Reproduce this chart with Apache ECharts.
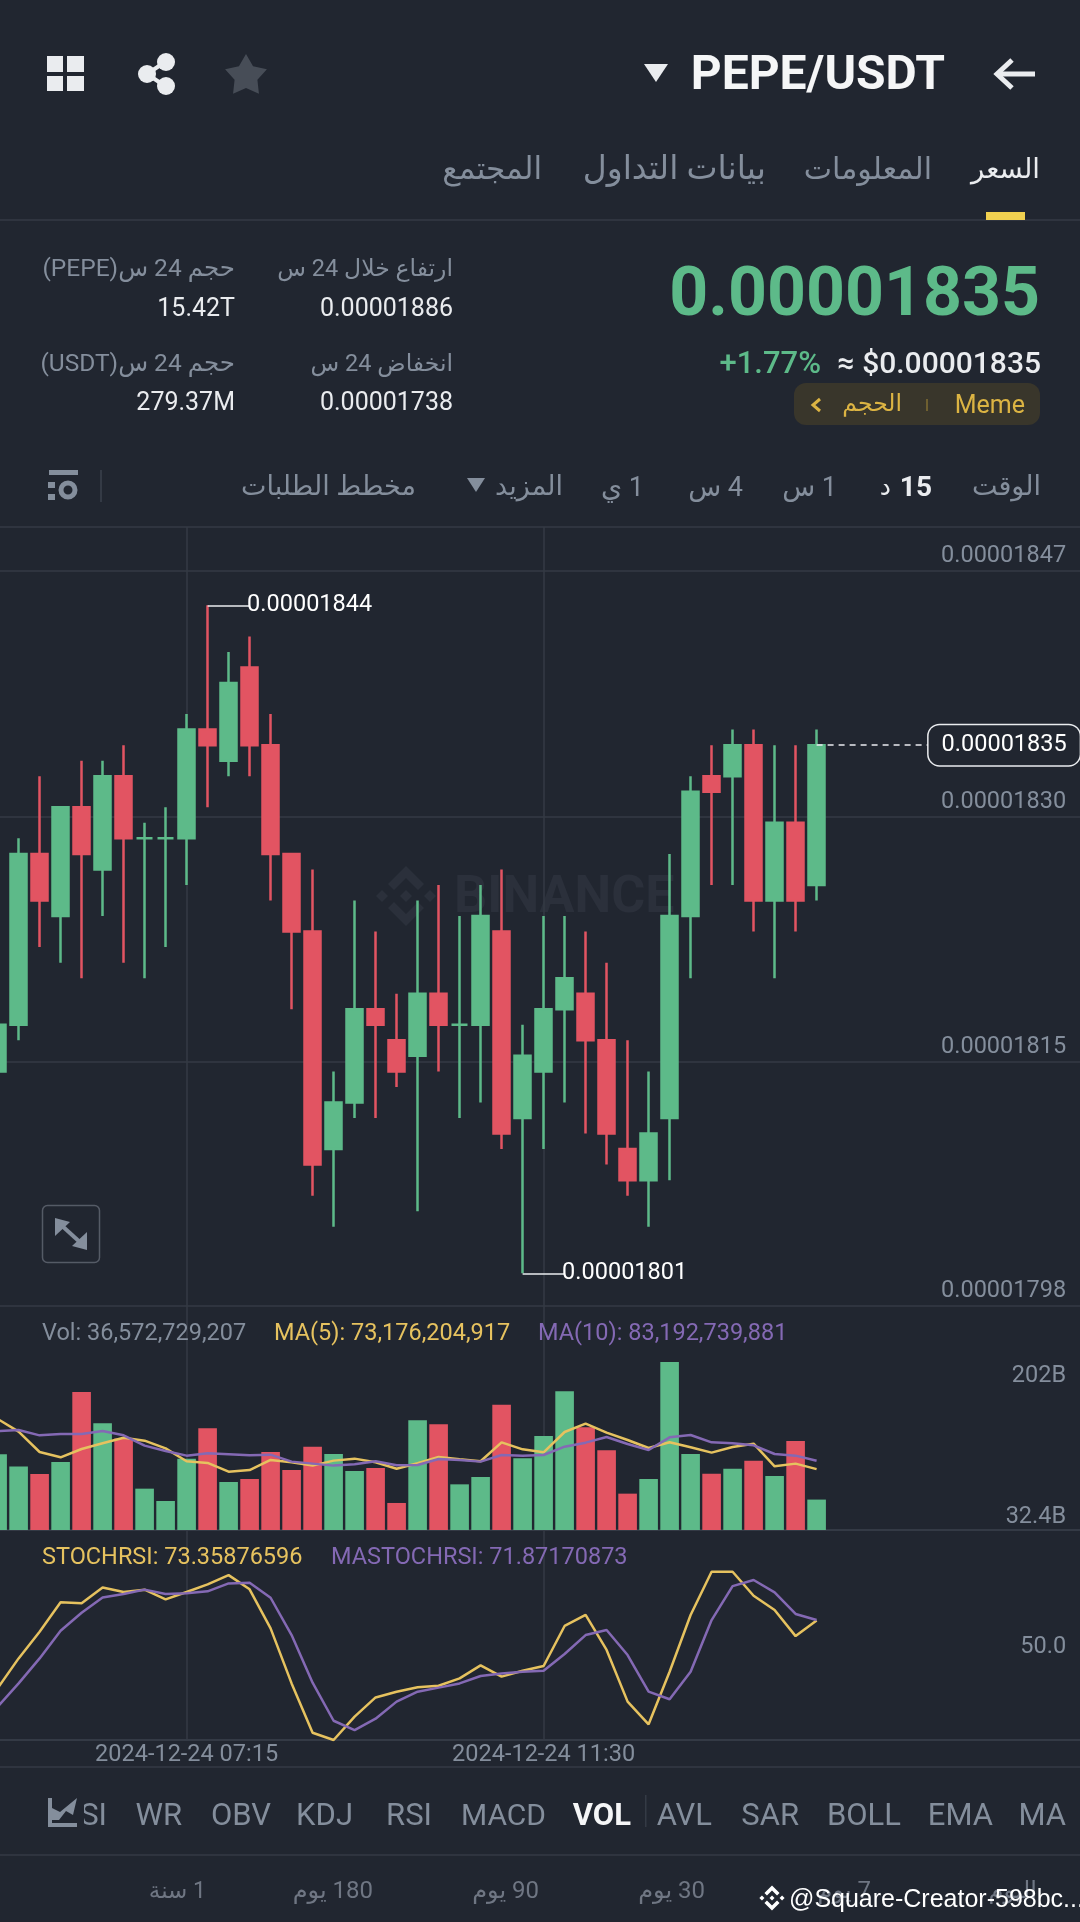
<!DOCTYPE html>
<html>
<head>
<meta charset="utf-8">
<title>PEPE/USDT</title>
<style>
  html, body { margin: 0; padding: 0; background: #212630; }
  #main { width: 1080px; height: 1922px; }
</style>
<script src="https://cdn.jsdelivr.net/npm/echarts@6/dist/echarts.min.js"></script>
</head>
<body>
<div id="main"></div>
<script>
// 15 minute candles, the last slots are empty room on the right of the chart
const times = ['05:00','05:15','05:30','05:45','06:00','06:15','06:30','06:45','07:00','07:15',
  '07:30','07:45','08:00','08:15','08:30','08:45','09:00','09:15','09:30','09:45',
  '10:00','10:15','10:30','10:45','11:00','11:15','11:30','11:45','12:00','12:15',
  '12:30','12:45','13:00','13:15','13:30','13:45','14:00','14:15','14:30','14:45',
  '15:00','15:15','15:30','15:45','16:00','16:15','16:30','16:45','17:00','17:15',
  '17:30','17:45','18:00'];
const shownTimes = ['07:15', '11:30'];

const opens = [0.00001814,0.00001817,0.00001828,0.00001824,0.00001831,0.00001827,0.00001833,0.00001829,0.00001829,0.00001829,
  0.00001836,0.00001834,0.00001840,0.00001835,0.00001828,0.00001823,0.00001809,0.00001812,0.00001818,0.00001816,
  0.00001815,0.00001819,0.00001817,0.00001817,0.00001823,0.00001811,0.00001814,0.00001818,0.00001819,0.00001816,
  0.00001809,0.00001807,0.00001811,0.00001824,0.00001833,0.00001833,0.00001835,0.00001825,0.00001830,0.00001826];
const closes = [0.00001817,0.00001828,0.00001825,0.00001831,0.00001828,0.00001833,0.00001829,0.00001829,0.00001829,0.00001836,
  0.00001835,0.00001839,0.00001835,0.00001828,0.00001823,0.00001808,0.00001812,0.00001818,0.00001817,0.00001814,
  0.00001819,0.00001817,0.00001817,0.00001824,0.00001810,0.00001815,0.00001818,0.00001820,0.00001816,0.00001810,
  0.00001807,0.00001810,0.00001824,0.00001832,0.00001832,0.00001835,0.00001825,0.00001830,0.00001825,0.00001835];
const lows = [0.00001812,0.00001816,0.00001822,0.00001821,0.00001820,0.00001824,0.00001821,0.00001820,0.00001822,0.00001826,
  0.00001831,0.00001833,0.00001833,0.00001825,0.00001818,0.00001806,0.00001804,0.00001811,0.00001811,0.00001813,
  0.00001805,0.00001814,0.00001811,0.00001812,0.00001809,0.00001801,0.00001809,0.00001812,0.00001810,0.00001808,
  0.00001806,0.00001804,0.00001807,0.00001820,0.00001826,0.00001826,0.00001823,0.00001820,0.00001823,0.00001825];
const highs = [0.00001818,0.00001829,0.00001833,0.00001831,0.00001834,0.00001834,0.00001835,0.00001830,0.00001831,0.00001837,
  0.00001844,0.00001841,0.00001842,0.00001837,0.00001828,0.00001827,0.00001814,0.00001825,0.00001823,0.00001819,
  0.00001825,0.00001826,0.00001824,0.00001826,0.00001827,0.00001817,0.00001824,0.00001824,0.00001823,0.00001821,
  0.00001816,0.00001814,0.00001828,0.00001833,0.00001835,0.00001836,0.00001836,0.00001835,0.00001835,0.00001836];

// volume in billions
const volumes = [91.0,76.2,67.3,81.8,165.9,128.3,110.0,49.7,34.9,85.8,
  122.2,57.7,61.3,93.8,72.1,100.2,91.4,70.9,74.5,32.5,
  131.9,127.1,54.9,63.7,150.7,86.2,113.0,166.7,123.4,95.8,
  43.7,61.3,202.0,91.4,67.7,73.7,83.4,64.9,107.0,36.57];
const ma5 = [133.5,118.2,93.8,87.4,97.4,104.2,111.0,107.4,98.2,82.6,
  80.6,70.1,72.1,84.2,81.4,77.4,83.4,85.8,81.4,73.7,
  80.2,87.8,85.0,82.6,105.4,97.0,93.4,117.8,127.9,117.0,
  108.2,98.6,105.4,99.4,93.0,99.8,103.8,76.6,79.8,73.18];
const ma10 = [119.0,120.2,113.8,115.4,115.4,119.0,113.8,101.4,95.0,89.4,
  92.2,91.0,89.8,90.6,82.2,79.8,77.4,79.0,82.6,77.8,
  78.2,85.4,84.2,82.2,90.2,89.4,90.2,100.2,105.0,111.8,
  103.4,96.2,111.4,114.2,105.4,104.2,101.8,91.4,89.4,83.19];

const stochRsi = [30.6,48.3,64.1,81.5,80.9,90.3,87.6,89.0,83.2,87.6,
  92.1,97.6,89.2,66.1,33.5,4.3,0,13.8,25.2,28.6,
  31.2,32.1,36.5,44.2,37.5,41.0,43.8,67.5,74.0,53.3,
  22.7,9.3,40.4,74.0,99.6,99.6,85.4,76.9,61.5,70.8];
const maStochRsi = [19.7,33.5,48.3,64.7,75.3,84.4,86.4,89.0,86.4,86.8,
  88.0,92.7,93.1,84.2,62.1,33.9,11.4,5.9,12.6,22.7,
  28.6,31.0,33.5,37.9,39.4,40.4,41.0,50.9,62.1,65.1,
  50.3,28.6,24.1,40.4,71.0,91.1,94.7,87.4,74.6,71.0];

const priceMin = 0.00001798900, priceMax = 0.00001849040;
const priceTicks = [0.00001798900, 0.00001814600, 0.00001830400, 0.00001846200, priceMax];
const priceTickLabels = ['0.00001798', '0.00001815', '0.00001830', '0.00001847', ''];
const volTicks = [32.4, 202];
const volTickLabels = ['32.4B', '202B'];
const lastPrice = 0.00001835, dayHighMark = 0.00001844, dayLowMark = 0.00001801;

const GREEN = '#5dba89', RED = '#e25462', GRAY = '#848e9c', WHITE = '#eaecef',
  LINE = '#343a45', YELLOW = '#e6c25f', PURPLE = '#8469b4', BG = '#212630';
const FONT = 'Roboto, "DejaVu Sans", sans-serif';

const rtl = s => '\u202B' + s + '\u202C';
const zOr = (z) => (z === undefined ? 10 : z);
// canvas middle sits a bit high for this font, so text goes 2px lower than its centre
const txt = (text, x, y, size, fill, align, weight, z) => ({
  type: 'text', z: zOr(z), silent: true,
  style: { text, x, y: y + 2, fill, align: align || 'right', verticalAlign: 'middle', font: (weight || 400) + ' ' + size + 'px ' + FONT }
});
const rect = (x, y, width, height, fill, r, z) => ({
  type: 'rect', z: zOr(z), silent: true, shape: { x, y, width, height, r: r || 0 }, style: { fill }
});
const hline = (y) => ({ type: 'line', z: 1, silent: true, shape: { x1: 0, y1: y, x2: 1080, y2: y }, style: { stroke: LINE, lineWidth: 1.5 } });
const poly = (points, fill, z) => ({ type: 'polygon', z: zOr(z), silent: true, shape: { points }, style: { fill } });
const stroke = (points, color, w) => ({ type: 'polyline', z: 10, silent: true, shape: { points }, style: { stroke: color, lineWidth: w, fill: null } });

function starPoints(cx, cy, R, r) {
  const pts = [];
  for (let i = 0; i < 10; i++) {
    const a = -Math.PI / 2 + i * Math.PI / 5, d = i % 2 ? r : R;
    pts.push([cx + d * Math.cos(a), cy + d * Math.sin(a)]);
  }
  return pts;
}

// binance logo: three small diamonds and two chevrons
function logo(cx, cy, s, fill, z) {
  const p = (pts) => poly(pts.map(q => [cx + q[0] * s, cy + q[1] * s]), fill, z);
  return [
    p([[0, -6], [6, 0], [0, 6], [-6, 0]]),
    p([[-24, -6], [-18, 0], [-24, 6], [-30, 0]]),
    p([[24, -6], [30, 0], [24, 6], [18, 0]]),
    p([[0, -30], [18, -12], [12, -6], [0, -18], [-12, -6], [-18, -12]]),
    p([[0, 30], [18, 12], [12, 6], [0, 18], [-12, 6], [-18, 12]])
  ];
}

const graphics = [
  // top bar
  rect(47, 56, 16, 16, WHITE), rect(67, 56, 17, 16, WHITE), rect(47, 76, 16, 15, WHITE), rect(67, 76, 17, 15, WHITE),
  stroke([[165, 62], [147, 74], [165, 86]], WHITE, 4),
  { type: 'circle', z: 10, shape: { cx: 147, cy: 74, r: 9 }, style: { fill: WHITE } },
  { type: 'circle', z: 10, shape: { cx: 166, cy: 62, r: 9 }, style: { fill: WHITE } },
  { type: 'circle', z: 10, shape: { cx: 166, cy: 86, r: 9 }, style: { fill: WHITE } },
  poly(starPoints(246, 76, 22, 12), '#474d57'),
  poly([[644, 64], [668, 64], [656, 82]], WHITE),
  txt('PEPE/USDT', 945, 75, 48, '#f5f6f7', 'right', 700),
  stroke([[1012, 60], [997, 74], [1012, 88]], WHITE, 5),
  stroke([[997, 74], [1035, 74]], WHITE, 5),

  // tabs
  txt('السعر', 1040, 169, 27.5, WHITE),
  txt('المعلومات', 932, 169, 30, GRAY),
  txt('بيانات التداول', 766, 169, 33, GRAY),
  txt('المجتمع', 542, 169, 31, GRAY),
  rect(986, 212, 39, 8, '#f0d050'),
  hline(220),

  // price block
  txt('0.00001835', 1040, 296, 68, GREEN, 'right', 700),
  txt('+1.77%', 821, 363, 31, GREEN, 'right', 500),
  txt('≈ $0.00001835', 1041, 363, 30, WHITE, 'right', 500),
  rect(794, 383, 246, 42, '#39362b', 12),
  txt('Meme', 1025, 405, 25, '#dcb443'),
  rect(926, 399, 2, 12, '#6e5f30'),
  txt('الحجم', 902, 403, 23.5, '#dcb443'),
  stroke([[820, 399], [813, 405], [820, 411]], '#dcb443', 3),

  // 24h stats
  txt(rtl('ارتفاع خلال 24 س'), 453, 268, 23.5, GRAY),
  txt('0.00001886', 453, 308, 25, WHITE),
  txt(rtl('حجم 24 س(PEPE)'), 235, 268, 24.5, GRAY),
  txt('15.42T', 235, 308, 25, WHITE),
  txt(rtl('انخفاض 24 س'), 453, 363, 23.5, GRAY),
  txt('0.00001738', 453, 402, 25, WHITE),
  txt(rtl('حجم 24 س(USDT)'), 235, 363, 24.5, GRAY),
  txt('279.37M', 235, 402, 25, WHITE),

  // interval row
  txt('الوقت', 1041, 486, 27, GRAY),
  txt('15', 932, 487, 28, WHITE, 'right', 700),
  txt('د', 891, 487, 25, WHITE),
  txt(rtl('1 س'), 837, 487, 27, GRAY),
  txt(rtl('4 س'), 743, 487, 27, GRAY),
  txt(rtl('1 ي'), 644, 487, 27, GRAY),
  txt('المزيد', 563, 486, 27, GRAY),
  poly([[467, 478], [485, 478], [476, 492]], GRAY),
  txt('مخطط الطلبات', 416, 486, 27, GRAY),
  rect(100, 470, 2, 32, LINE),
  rect(49, 470, 29, 5, GRAY), rect(48, 482, 7, 6, GRAY), rect(48, 494, 7, 6, GRAY),
  { type: 'circle', z: 10, shape: { cx: 68, cy: 490, r: 7 }, style: { fill: BG, stroke: GRAY, lineWidth: 5 } },

  // watermark under the candles
  ...logo(406, 896, 1, '#2b303b', 0),
  txt('BINANCE', 454, 897, 52, '#2b303b', 'left', 700, 0),

  // fullscreen button
  { type: 'rect', z: 10, shape: { x: 42.5, y: 1205.5, width: 57, height: 57, r: 5 }, style: { fill: BG, stroke: '#555b66', lineWidth: 1.5 } },
  poly([[55, 1218], [70, 1222], [55, 1236]], GRAY),
  poly([[87, 1250], [72, 1246], [87, 1232]], GRAY),
  stroke([[60, 1224], [82, 1244]], GRAY, 4),

  // legends
  txt('Vol: 36,572,729,207', 42, 1332, 23.5, GRAY, 'left'),
  txt('MA(5): 73,176,204,917', 274, 1332, 23.5, YELLOW, 'left'),
  txt('MA(10): 83,192,739,881', 538, 1332, 23.5, PURPLE, 'left'),
  txt('STOCHRSI: 73.35876596', 42, 1556, 23.5, YELLOW, 'left'),
  txt('MASTOCHRSI: 71.87170873', 331, 1556, 23.5, PURPLE, 'left'),

  hline(1767),

  // indicator row
  txt('StochRSI', 107, 1815, 31, GRAY, 'right', 400, 9),
  rect(0, 1790, 84, 48, BG, 0, 10),
  stroke([[50, 1798], [50, 1825], [77, 1825]], GRAY, 4),
  poly([[52, 1820], [52, 1808], [60, 1812], [77, 1798], [73, 1815], [66, 1811], [59, 1820]], GRAY),
  txt('WR', 182, 1815, 31, GRAY),
  txt('OBV', 271, 1815, 31, GRAY),
  txt('KDJ', 353, 1815, 31, GRAY),
  txt('RSI', 432, 1815, 31, GRAY),
  txt('MACD', 546, 1815, 30, GRAY),
  txt('VOL', 631, 1815, 31, '#f5f6f7', 'right', 700),
  rect(645, 1795, 1.5, 32, LINE),
  txt('AVL', 712, 1815, 31, GRAY),
  txt('SAR', 799, 1815, 31, GRAY),
  txt('BOLL', 901, 1815, 31, GRAY),
  txt('EMA', 993, 1815, 31, GRAY),
  txt('MA', 1066, 1815, 31, GRAY),

  hline(1855),

  // performance row
  txt('اليوم', 1037, 1890, 24, '#6f7683'),
  txt(rtl('7 يوم'), 871, 1890, 24, '#6f7683'),
  txt(rtl('30 يوم'), 705, 1890, 24, '#6f7683'),
  txt(rtl('90 يوم'), 539, 1890, 24, '#6f7683'),
  txt(rtl('180 يوم'), 373, 1890, 24, '#6f7683'),
  txt(rtl('1 سنة'), 206, 1890, 23, '#6f7683'),

  // creator tag on top of everything
  ...logo(772, 1898, 0.42, '#ffffff', 12),
  {
    type: 'text', z: 12, silent: true,
    style: {
      text: '@Square-Creator-598bc...', x: 789, y: 1900, fill: '#ffffff', align: 'left', verticalAlign: 'middle',
      font: '400 25px "Liberation Sans", sans-serif'
    }
  }
];

const chart = echarts.init(document.getElementById('main'), null, { renderer: 'canvas' });

const bandLeft = -12.9, bandWidth = 1113;
const isShownTime = (i, v) => shownTimes.indexOf(v) >= 0;
const xAxisBase = (gridIndex) => ({
  type: 'category', gridIndex, data: times, boundaryGap: true,
  axisLine: { show: false }, axisTick: { show: false }, axisLabel: { show: false },
  splitLine: { show: true, alignWithLabel: true, interval: isShownTime, lineStyle: { color: LINE, width: 1.5 } }
});
const axisLabelBase = { show: true, inside: true, color: GRAY, fontFamily: FONT, fontSize: 23.5, align: 'right', margin: 34 };

chart.setOption({
  animation: false,
  backgroundColor: BG,
  textStyle: { fontFamily: FONT },
  graphic: { elements: graphics },
  grid: [
    { left: bandLeft, width: bandWidth, top: 527, height: 779, outerBoundsMode: 'none' },
    { left: bandLeft, width: bandWidth, top: 1306, height: 224, outerBoundsMode: 'none' },
    { left: bandLeft, width: bandWidth, top: 1530, height: 210, outerBoundsMode: 'none' }
  ],
  xAxis: [
    xAxisBase(0),
    Object.assign(xAxisBase(1), { axisLine: { show: true, onZero: false, lineStyle: { color: LINE, width: 2 } } }),
    Object.assign(xAxisBase(2), {
      axisLine: { show: true, onZero: false, lineStyle: { color: LINE, width: 2 } },
      axisLabel: {
        show: true, interval: isShownTime, margin: 3, color: GRAY, fontFamily: FONT, fontSize: 23.5,
        formatter: v => '2024-12-24 ' + v
      }
    })
  ],
  yAxis: [
    {
      type: 'value', gridIndex: 0, position: 'right', min: priceMin, max: priceMax,
      axisLine: { show: false },
      axisTick: { show: false, customValues: priceTicks },
      axisLabel: Object.assign({}, axisLabelBase, {
        customValues: priceTicks, verticalAlign: 'bottom', lineHeight: 29,
        formatter: (v) => {
          const i = priceTicks.findIndex(t => Math.abs(t - v) < 1e-10);
          return i >= 0 ? priceTickLabels[i] : '';
        }
      }),
      splitLine: { show: true, lineStyle: { color: LINE, width: 1.5 } }
    },
    {
      type: 'value', gridIndex: 1, position: 'right', min: 0, max: 269.3,
      axisLine: { show: false },
      axisTick: { show: false, customValues: volTicks },
      axisLabel: Object.assign({}, axisLabelBase, {
        customValues: volTicks, verticalAlign: 'top', lineHeight: 28,
        formatter: (v) => volTickLabels[volTicks.indexOf(v)] || ''
      }),
      splitLine: { show: false }
    },
    {
      type: 'value', gridIndex: 2, position: 'right', min: 0, max: 124.3,
      axisLine: { show: false },
      axisTick: { show: false, customValues: [50] },
      axisLabel: Object.assign({}, axisLabelBase, {
        customValues: [50], verticalAlign: 'bottom', lineHeight: 16,
        formatter: (v) => v.toFixed(1)
      }),
      splitLine: { show: false }
    }
  ],
  series: [
    {
      name: 'last price guide', type: 'line', xAxisIndex: 0, yAxisIndex: 0, z: 1, data: [],
      markLine: {
        silent: true, symbol: 'none',
        lineStyle: { color: WHITE, type: [6, 5], width: 1.5 },
        label: {
          show: true, position: 'end', distance: 0, offset: [-14, 0], formatter: '{b}',
          color: '#ffffff', fontFamily: FONT, fontSize: 23.5,
          backgroundColor: BG, borderColor: WHITE, borderWidth: 1.5, borderRadius: 11, padding: [9, 13, 7, 13]
        },
        data: [[{ name: lastPrice.toFixed(8), coord: [39, lastPrice] }, { coord: [45, lastPrice] }]]
      }
    },
    {
      name: 'PEPE/USDT', type: 'candlestick', xAxisIndex: 0, yAxisIndex: 0, z: 2,
      barWidth: 16,
      data: opens.map((o, i) => [o, closes[i], lows[i], highs[i]]),
      itemStyle: { color: GREEN, color0: RED, borderColor: GREEN, borderColor0: RED, borderColorDoji: GREEN, borderWidth: 2.5 },
      markLine: {
        silent: true, symbol: 'none',
        lineStyle: { color: WHITE, type: 'solid', width: 1.5 },
        label: { show: true, position: 'end', distance: -2.5, formatter: '{b}', color: '#ffffff', fontFamily: FONT, fontSize: 23.5 },
        data: [
          [{ name: dayHighMark.toFixed(8), coord: [10, dayHighMark] }, { coord: [12, dayHighMark] }],
          [{ name: dayLowMark.toFixed(8), coord: [25, dayLowMark] }, { coord: [27, dayLowMark] }]
        ]
      }
    },
    {
      name: 'Vol', type: 'bar', xAxisIndex: 1, yAxisIndex: 1, barWidth: 18.6,
      data: volumes.map((v, i) => ({ value: v, itemStyle: { color: closes[i] >= opens[i] ? GREEN : RED } }))
    },
    { name: 'MA(5)', type: 'line', xAxisIndex: 1, yAxisIndex: 1, data: ma5, symbol: 'none', lineStyle: { color: YELLOW, width: 2.5 } },
    { name: 'MA(10)', type: 'line', xAxisIndex: 1, yAxisIndex: 1, data: ma10, symbol: 'none', lineStyle: { color: PURPLE, width: 2.5 } },
    { name: 'STOCHRSI', type: 'line', xAxisIndex: 2, yAxisIndex: 2, data: stochRsi, symbol: 'none', clip: false, lineStyle: { color: YELLOW, width: 2.5 } },
    { name: 'MASTOCHRSI', type: 'line', xAxisIndex: 2, yAxisIndex: 2, data: maStochRsi, symbol: 'none', clip: false, lineStyle: { color: PURPLE, width: 2.5 } }
  ]
});
</script>
</body>
</html>
